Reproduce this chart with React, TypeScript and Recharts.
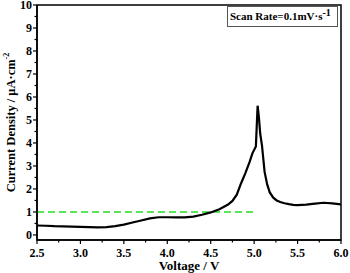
import React from 'react';
import { LineChart, Line, XAxis, YAxis, ReferenceLine, ReferenceArea } from 'recharts';

const voltage = [2.5, 2.6, 2.7, 2.8, 2.9, 3.0, 3.1, 3.2, 3.3, 3.4, 3.5, 3.6, 3.7, 3.8, 3.9, 4.0, 4.1, 4.2, 4.3, 4.4, 4.5, 4.6, 4.7, 4.75, 4.8, 4.85, 4.9, 4.95, 4.98, 5.02, 5.04, 5.055, 5.07, 5.09, 5.12, 5.15, 5.18, 5.22, 5.26, 5.3, 5.35, 5.4, 5.45, 5.5, 5.6, 5.7, 5.8, 5.9, 6.0];
const current = [0.41, 0.40, 0.38, 0.37, 0.36, 0.35, 0.34, 0.33, 0.34, 0.38, 0.45, 0.54, 0.63, 0.72, 0.77, 0.77, 0.76, 0.76, 0.80, 0.88, 0.98, 1.12, 1.32, 1.48, 1.75, 2.25, 2.70, 3.20, 3.55, 3.85, 5.62, 5.10, 4.40, 3.90, 2.75, 2.20, 1.85, 1.62, 1.50, 1.43, 1.38, 1.34, 1.31, 1.30, 1.32, 1.36, 1.40, 1.37, 1.33];
const xTicks = [2.5, 2.75, 3.0, 3.25, 3.5, 3.75, 4.0, 4.25, 4.5, 4.75, 5.0, 5.25, 5.5, 5.75, 6.0];
const yTicks = [0, 0.5, 1, 1.5, 2, 2.5, 3, 3.5, 4, 4.5, 5, 5.5, 6, 6.5, 7, 7.5, 8, 8.5, 9, 9.5, 10];
const thresholdLevel = 1;
const thresholdEnd = 5.0;

const data = voltage.map((v, i) => ({ v, c: current[i] }));

const FONT = '"Liberation Serif", "Times New Roman", serif';

const isMajorX = (v: number) => Math.abs(v * 2 - Math.round(v * 2)) < 1e-6;
const isMajorY = (v: number) => Math.abs(v - Math.round(v)) < 1e-6;

const XTick = (props: any) => {
  const { x, y, payload } = props;
  const major = isMajorX(payload.value);
  return (
    <g>
      <line x1={x} x2={x} y1={y} y2={y + (major ? 4 : 2.5)} stroke="#000" strokeWidth={1.2} />
      {major && (
        <text x={x} y={y + 16.5} textAnchor="middle" fontFamily={FONT} fontWeight="bold" fontSize={12} fill="#000">
          {payload.value.toFixed(1)}
        </text>
      )}
    </g>
  );
};

const YTick = (props: any) => {
  const { x, y, payload } = props;
  const major = isMajorY(payload.value);
  return (
    <g>
      <line x1={x} x2={x - (major ? 4 : 2.5)} y1={y} y2={y} stroke="#000" strokeWidth={1.2} />
      {major && (
        <text x={x - 5} y={y + 4} textAnchor="end" fontFamily={FONT} fontWeight="bold" fontSize={12} fill="#000">
          {payload.value}
        </text>
      )}
    </g>
  );
};

const YLabel = (props: any) => {
  const { viewBox } = props;
  const cx = 11;
  const cy = viewBox.y + viewBox.height / 2;
  return (
    <text
      x={cx}
      y={cy}
      transform={`rotate(-90, ${cx}, ${cy})`}
      textAnchor="middle"
      dominantBaseline="central"
      fontFamily={FONT}
      fontWeight="bold"
      fontSize={12.5}
      fill="#000"
    >
      Current Density / μA·cm
      <tspan dy={-5} fontSize={8}>-2</tspan>
    </text>
  );
};

const XLabel = (props: any) => {
  const { viewBox } = props;
  const cx = viewBox.x + viewBox.width / 2;
  return (
    <text x={cx} y={270} textAnchor="middle" fontFamily={FONT} fontWeight="bold" fontSize={13} fill="#000">
      Voltage / V
    </text>
  );
};

export default function App() {
  return (
    <div style={{ position: 'absolute', left: 0, top: 0, width: 350, height: 273, background: '#fff' }}>
      <LineChart width={350} height={273} data={data} margin={{ top: 5, right: 9, bottom: 0, left: 0 }}>
        <XAxis
          type="number"
          dataKey="v"
          domain={[2.5, 6]}
          ticks={xTicks}
          interval={0}
          tickSize={0}
          tickMargin={0}
          tickLine={false}
          tick={<XTick />}
          height={33}
          axisLine={{ stroke: '#000', strokeWidth: 1.5 }}
          allowDataOverflow
          label={<XLabel />}
        />
        <YAxis
          type="number"
          domain={[-0.22, 10]}
          ticks={yTicks}
          interval={0}
          tickSize={0}
          tickMargin={0}
          tickLine={false}
          tick={<YTick />}
          width={37}
          axisLine={{ stroke: '#000', strokeWidth: 1.5 }}
          allowDataOverflow
          label={<YLabel />}
        />
        <ReferenceArea x1={2.5} x2={6} y1={-0.22} y2={10} fill="none" stroke="#000" strokeWidth={1.5} />
        <ReferenceLine
          segment={[{ x: 2.5, y: thresholdLevel }, { x: thresholdEnd, y: thresholdLevel }]}
          stroke="#22dd22"
          strokeWidth={1.5}
          strokeDasharray="7 4"
        />
        <Line
          type="linear"
          dataKey="c"
          stroke="#000"
          strokeWidth={2.2}
          dot={false}
          isAnimationActive={false}
        />
      </LineChart>
      <div
        style={{
          position: 'absolute',
          left: 227,
          top: 6,
          width: 111,
          height: 21,
          border: '1px solid #555',
          background: '#fff',
          boxSizing: 'border-box',
          fontFamily: FONT,
          fontWeight: 'bold',
          fontSize: 11,
          lineHeight: '19px',
          paddingLeft: 2,
          whiteSpace: 'nowrap',
          color: '#000',
        }}
      >
        Scan Rate=0.1mV·s<sup style={{ fontSize: 10, verticalAlign: 'top', lineHeight: '12px' }}>-1</sup>
      </div>
    </div>
  );
}
